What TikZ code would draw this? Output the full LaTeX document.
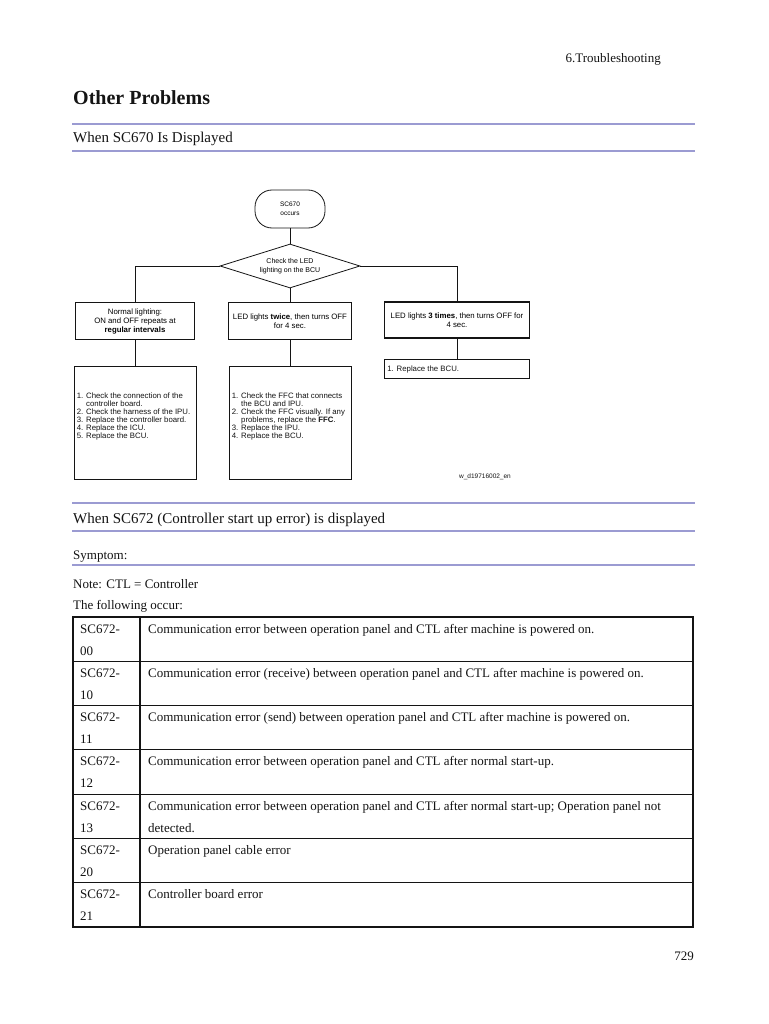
\documentclass[tikz,border=0pt]{standalone}
\usepackage{fontspec}
\setmainfont{Liberation Serif}
\setsansfont{Liberation Sans}
\usetikzlibrary{shapes.geometric,calc}
\definecolor{rulecol}{RGB}{155,155,210}
\definecolor{ink}{RGB}{20,20,20}
\begin{document}
\begin{tikzpicture}[x=1pt,y=-1pt,
  body/.style={font=\fontsize{13}{15}\selectfont, inner sep=0, text=ink},
  sec/.style={font=\fontsize{15}{18}\selectfont, inner sep=0, text=ink},
  rulel/.style={draw=rulecol, line width=2.6pt},
  flow/.style={draw=ink, line width=0.8pt, font=\sffamily\fontsize{7.8}{9}\selectfont, align=center, inner sep=1pt},
  listtxt/.style={font=\sffamily\fontsize{7.8}{8}\selectfont, align=left, inner sep=0, text=ink},
  conn/.style={draw=ink, line width=0.8pt},
  tab/.style={draw=ink, line width=1.1pt}]
\useasboundingbox (0,0) rectangle (768,1024);
\fill[white] (0,0) rectangle (768,1024);

% header
\node[body, anchor=base east] (hdr) at (661,63) {6.Troubleshooting};
\node[font=\bfseries\fontsize{20}{24}\selectfont, inner sep=0, anchor=base west, text=ink] (title) at (73,105) {Other Problems};
\draw[rulel] (72,124) -- (695,124);
\node[sec, anchor=base west] (s1) at (73,143) {When SC670 Is Displayed};
\draw[rulel] (72,151) -- (695,151);

% flowchart
\node[draw=ink, line width=0.8pt, rounded corners=17pt, minimum width=70pt, minimum height=38pt,
      font=\sffamily\fontsize{6.5}{8.5}\selectfont, align=center, inner sep=0] (start) at (290,209) {SC670\\occurs};
\node[draw=ink, line width=0.8pt, diamond, aspect=3.2, minimum width=140pt, minimum height=44pt, inner sep=0,
      font=\sffamily\fontsize{7}{9}\selectfont, align=center] (dia) at (290,266) {Check the LED\\lighting on the BCU};

\node[flow, minimum width=119pt, minimum height=37pt] (b1) at (135,321)
  {Normal lighting:\\ON and OFF repeats at\\\textbf{regular intervals}};
\node[flow, minimum width=123pt, minimum height=37pt] (b2) at (290,321)
  {LED lights \textbf{twice}, then turns OFF\\for 4 sec.};
\node[flow, minimum width=145pt, minimum height=36pt, line width=1.1pt] (b3) at (457,320)
  {LED lights \textbf{3 times}, then turns OFF for\\4 sec.};

\node[draw=ink, line width=0.8pt, minimum width=122pt, minimum height=113pt, inner sep=0] (b4) at (135,423) {};
\node[listtxt, anchor=north west] (t4) at ($(b4.north west)+(3,27)$)
  {1. Check the connection of the\\\phantom{1. }controller board.\\2. Check the harness of the IPU.\\3. Replace the controller board.\\4. Replace the ICU.\\5. Replace the BCU.};
\node[draw=ink, line width=0.8pt, minimum width=122pt, minimum height=113pt, inner sep=0] (b6) at (290,423) {};
\node[listtxt, anchor=north west] (t6) at ($(b6.north west)+(3,27)$)
  {1. Check the FFC that connects\\\phantom{1. }the BCU and IPU.\\2. Check the FFC visually. If any\\\phantom{2. }problems, replace the \textbf{FFC}.\\3. Replace the IPU.\\4. Replace the BCU.};
\node[draw=ink, line width=0.8pt, minimum width=145pt, minimum height=19pt, inner sep=0] (b5) at (457,369) {};
\node[listtxt, anchor=west] (t5) at ($(b5.west)+(3,0)$) {1. Replace the BCU.};

\node[font=\sffamily\fontsize{6.5}{7}\selectfont, inner sep=0, text=ink] (fig) at (485,477) {w\_d19716002\_en};

\draw[conn] (start) -- (dia);
\draw[conn] (dia.west) -| (b1.north);
\draw[conn] (dia.east) -| (b3.north);
\draw[conn] (dia.south) -- (b2.north);
\draw[conn] (b1.south) -- (b4.north);
\draw[conn] (b2.south) -- (b6.north);
\draw[conn] (b3.south) -- (b5.north);

% second section
\draw[rulel] (72,503) -- (695,503);
\node[sec, anchor=base west] (s2) at (73,523) {When SC672 (Controller start up error) is displayed};
\draw[rulel] (72,531) -- (695,531);
\node[body, anchor=base west] (sym) at (73,559) {Symptom:};
\draw[draw=rulecol, line width=2pt] (72,565) -- (695,565);
\node[body, anchor=base west] (note) at (73,588) {Note: CTL = Controller};
\node[body, anchor=base west] (occ) at (73,609) {The following occur:};

% table
\draw[tab] (73,617) rectangle (693,927);
\draw[tab] (140,617) -- (140,927);
\foreach \k in {1,...,6} { \draw[tab] (73,617+44.3*\k) -- (693,617+44.3*\k); }
\foreach \i/\s/\d in {0/00/{Communication error between operation panel and CTL after machine is powered on.},
                      1/10/{Communication error (receive) between operation panel and CTL after machine is powered on.},
                      2/11/{Communication error (send) between operation panel and CTL after machine is powered on.},
                      3/12/{Communication error between operation panel and CTL after normal start-up.},
                      4/13/{Communication error between operation panel and CTL after normal start-up; Operation panel not},
                      5/20/{Operation panel cable error},
                      6/21/{Controller board error}} {
  \node[body, anchor=base west] (code\i) at (80,633+44.3*\i) {SC672-};
  \node[body, anchor=base west] (suf\i) at (80,655+44.3*\i) {\s};
  \node[body, anchor=base west] (desc\i) at (148,633+44.3*\i) {\d};
}
\node[body, anchor=base west] (desc4b) at (148,655+44.3*4) {detected.};

\node[body, anchor=base east] (page) at (694,960) {729};
\end{tikzpicture}
\end{document}
